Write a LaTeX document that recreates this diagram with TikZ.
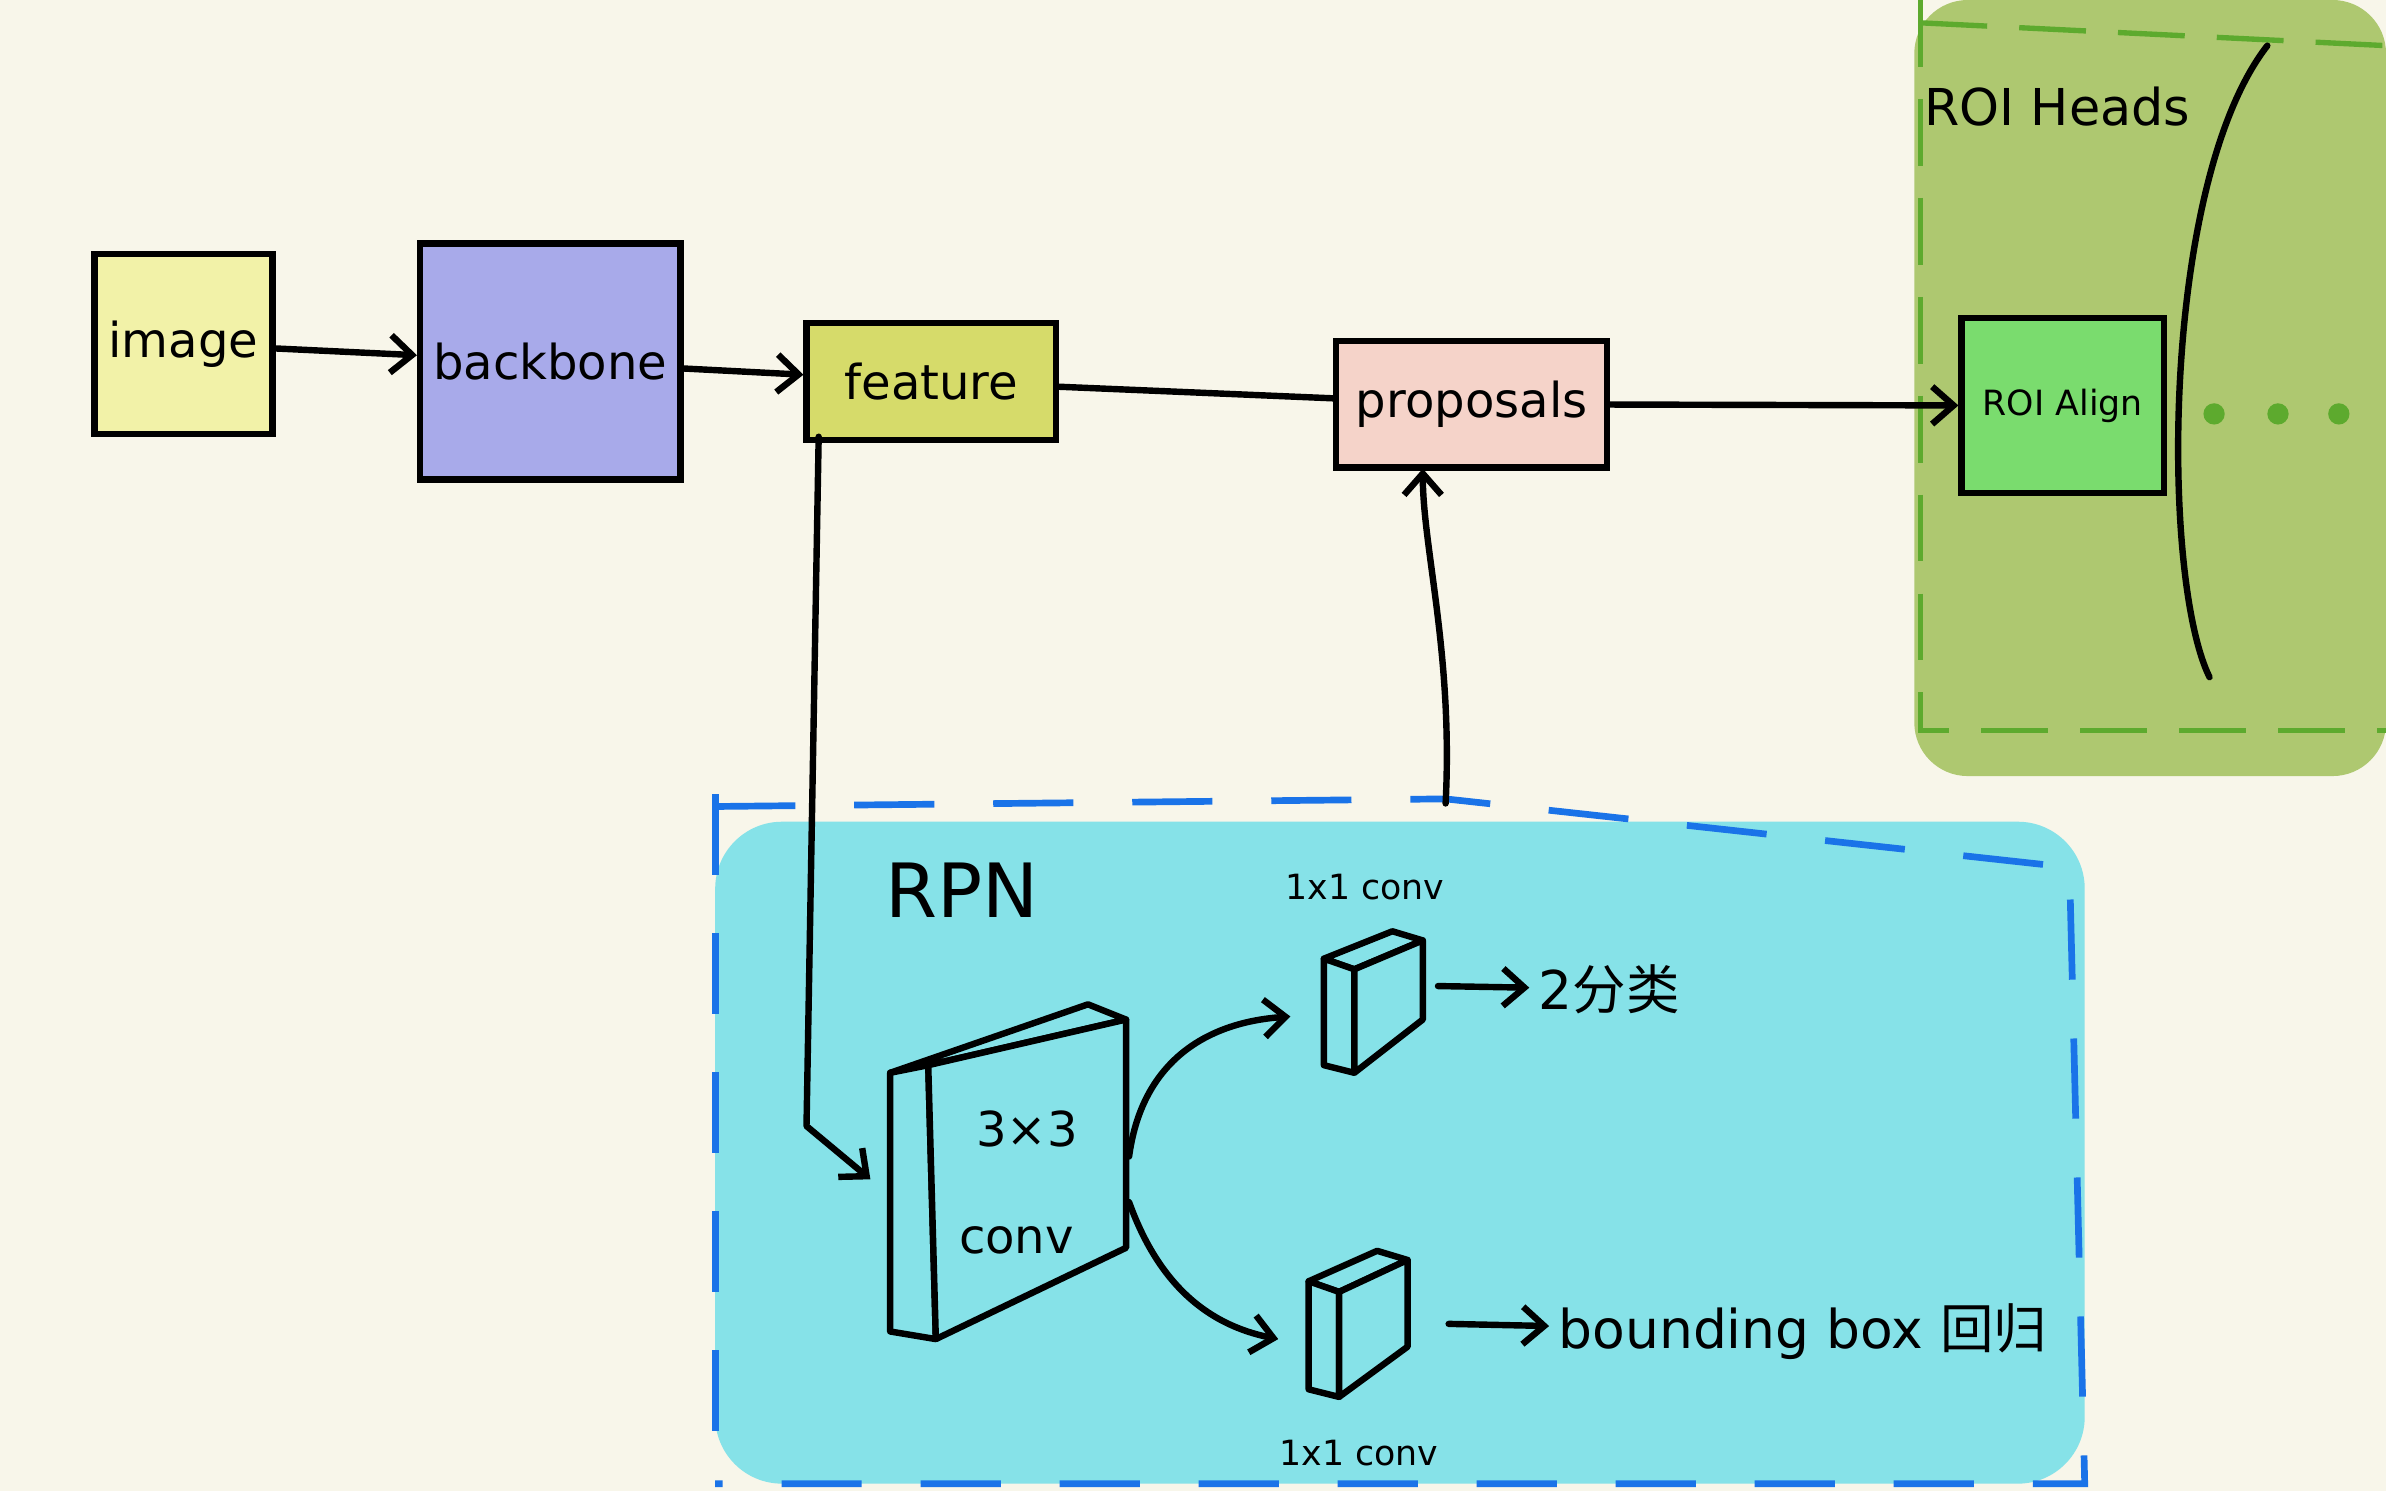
\documentclass[tikz,border=0pt]{standalone}
\usepackage{fontspec}
\setmainfont{DejaVu Sans}
\newfontfamily\cjk{Noto Sans CJK SC}
\usetikzlibrary{arrows.meta}
\definecolor{bg}{HTML}{F8F6EA}
\definecolor{cimg}{HTML}{F2F2A8}
\definecolor{cbb}{HTML}{A8AAEA}
\definecolor{cfeat}{HTML}{D6DB6A}
\definecolor{cprop}{HTML}{F5D3C9}
\definecolor{cheads}{HTML}{AEC870}
\definecolor{calign}{HTML}{7ADC6E}
\definecolor{crpn}{HTML}{86E2E8}
\definecolor{cblue}{HTML}{1A73E8}
\definecolor{cgreen}{HTML}{5DAA2E}
\tikzset{
 x=0.02cm,y=-0.02cm,
 box/.style 2 args={draw=black,line width=2.4pt,minimum width=#1*0.02cm,minimum height=#2*0.02cm,inner sep=0pt,anchor=north west},
 lbl/.style={font=\fontsize{18}{22}\selectfont},
 sm/.style={font=\fontsize{13}{16}\selectfont},
 ln/.style={line width=2.4pt,line cap=round,line join=round},
 arr/.style={ln,-{Straight Barb[length=8pt,width=14pt,line width=2.4pt]}},
 cub/.style={ln,fill=crpn}
}
\begin{document}
\begin{tikzpicture}
\fill[bg] (0,0) rectangle (1568,980);
\useasboundingbox (0,0) rectangle (1568,980);
% ROI heads region
\fill[cheads,rounded corners=20pt] (1258,0) rectangle (1568,510);
\draw[cgreen,line width=2pt,dash pattern=on 25pt off 12pt] (1262,0) -- (1262,480) -- (1568,480);
\draw[cgreen,line width=2pt,dash pattern=on 25pt off 12pt] (1262,15) -- (1568,30);
\node[font=\fontsize{19}{23}\selectfont] (rh) at (1352,70) {ROI Heads};
% RPN region
\fill[crpn,rounded corners=25pt] (470,540) rectangle (1370,975);
\draw[cblue,line width=2.5pt,dash pattern=on 30pt off 22pt] (470,522) -- (470,975);
\draw[cblue,line width=2.5pt,dash pattern=on 30pt off 22pt] (470,530) -- (950,525) -- (1360,570) -- (1370,975) -- (470,975);
\node[font=\fontsize{28}{32}\selectfont] (rpn) at (632,585) {RPN};
% main boxes
\node[box={117}{118},fill=cimg,lbl] (img) at (60,165) {image};
\node[box={171}{155},fill=cbb,lbl] (bb) at (274,158) {backbone};
\node[box={164}{77},fill=cfeat,lbl] (feat) at (528,210) {feature};
\node[box={178}{83},fill=cprop,lbl] (prop) at (876,222) {proposals};
\node[box={133}{115},fill=calign,sm] (align) at (1287,207) {ROI Align};
\draw[arr] (img) -- (bb);
\draw[arr] (bb) -- (feat);
\draw[ln] (feat) -- (prop);
\draw[arr] (prop) -- (align);
% heads line and dots
\draw[ln] (1490,30) .. controls (1420,120) and (1420,380) .. (1452,445);
\foreach \x/\n in {1455/d1,1497/d2,1537/d3}
  \fill[cgreen] (\x,272) circle (7) coordinate (\n);
% 3x3 conv cuboid
\draw[cub] (585,705) -- (715,660) -- (740,670) -- (610,700) -- cycle;
\draw[cub] (585,705) -- (610,700) -- (615,880) -- (585,875) -- cycle;
\draw[cub] (610,700) -- (740,670) -- (740,820) -- (615,880) -- cycle;
\node[lbl] (c3a) at (675,742) {3×3};
\node[lbl] (c3b) at (668,815) {conv};
\coordinate (c3in) at (572,775);
\coordinate (c3o1) at (742,760);
\coordinate (c3o2) at (742,790);
% small cuboids
\draw[cub] (870,630) -- (915,612) -- (935,618) -- (890,637) -- cycle;
\draw[cub] (870,630) -- (890,637) -- (890,705) -- (870,700) -- cycle;
\draw[cub] (890,637) -- (935,618) -- (935,670) -- (890,705) -- cycle;
\coordinate (s1in) at (848,668);
\coordinate (s1out) at (945,648);
\node[sm] (l1) at (897,583) {1x1 conv};
\draw[cub] (860,842) -- (905,822) -- (925,828) -- (880,849) -- cycle;
\draw[cub] (860,842) -- (880,849) -- (880,918) -- (860,913) -- cycle;
\draw[cub] (880,849) -- (925,828) -- (925,885) -- (880,918) -- cycle;
\coordinate (s2in) at (840,880);
\coordinate (s2out) at (952,870);
\node[sm] (l2) at (893,955) {1x1 conv};
\node[font=\fontsize{20}{24}\selectfont,anchor=west] (cls) at (1005,650) {2{\cjk 分类}};
\node[font=\fontsize{20}{24}\selectfont,anchor=west] (reg) at (1018,875) {bounding box {\cjk 回归}};
\draw[arr] (s1out) -- (cls);
\draw[arr] (s2out) -- (reg);
\draw[arr] (c3o1) .. controls (750,700) and (790,672) .. (s1in);
\draw[arr] (c3o2) .. controls (760,840) and (790,870) .. (s2in);
% feature to RPN, RPN to proposals
\coordinate (fdown) at (538,287);
\draw[arr] (fdown) -- (530,740) -- (c3in);
\coordinate (rpntop) at (950,528);
\coordinate (ptarget) at (935,308);
\draw[arr] (rpntop) .. controls (955,430) and (935,360) .. (ptarget);
\end{tikzpicture}
\end{document}
